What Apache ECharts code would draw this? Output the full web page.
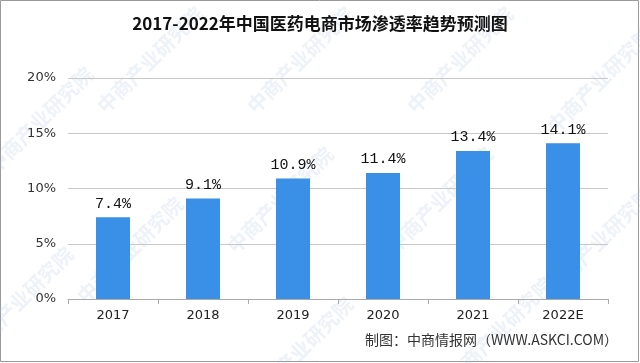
<!DOCTYPE html>
<html><head><meta charset="utf-8">
<script src="https://cdn.jsdelivr.net/npm/echarts@6/dist/echarts.min.js"></script>
<style>html,body{margin:0;padding:0;background:#fff}#c{width:640px;height:363px}</style>
</head><body><div id="c"></div>
<script>
const categories = ['2017','2018','2019','2020','2021','2022E'];
const values = [7.4, 9.1, 10.9, 11.4, 13.4, 14.1];
const yTicks = [0, 5, 10, 15, 20];
const titleText = '2017-2022年中国医药电商市场渗透率趋势预测图';
const sourceText = '制图：中商情报网（WWW.ASKCI.COM）';

const chart = echarts.init(document.getElementById('c'));
const wm = [];
const wmPos = [[40,120],[150,60],[300,60],[460,60],[600,80],[130,250],[280,200],[440,200],[600,240],[20,300],[500,330],[300,350]];
wmPos.forEach(p => wm.push({type:'text', x:p[0], y:p[1], rotation: Math.PI/4, z:0, silent:true,
  style:{text:'中商产业研究院', fill:'rgba(170,195,225,0.22)', font:'bold 20px "Noto Sans CJK SC"', textAlign:'center', textVerticalAlign:'middle'}}));
chart.setOption({
  animation:false,
  title:{text:titleText, left:'center', top:10,
    textStyle:{fontFamily:'"Noto Sans CJK SC"', fontWeight:'bold', fontSize:17, color:'#111'}},
  graphic:[
    {type:'rect', shape:{x:0.5,y:0.5,width:638,height:361}, style:{fill:'none', stroke:'#999', lineWidth:1}, silent:true},
    ...wm,
    {type:'text', right:22, top:333, style:{text:sourceText, fill:'#333', font:'14px "Noto Sans CJK SC"'}}
  ],
  grid:{left:68, right:32, top:78, bottom:64},
  xAxis:{type:'category', data:categories,
    axisLine:{lineStyle:{color:'#aaa'}},
    axisTick:{show:true, length:5, lineStyle:{color:'#aaa'}},
    axisLabel:{color:'#222', fontSize:13, margin:10, fontFamily:'"DejaVu Sans"'}},
  yAxis:{type:'value', min:yTicks[0], max:yTicks[yTicks.length-1], interval:5,
    axisLine:{show:false}, axisTick:{show:false},
    splitLine:{lineStyle:{color:'#c8c8c8'}},
    axisLabel:{formatter:v=>v+'%', color:'#333', fontSize:13, margin:12, fontFamily:'"DejaVu Sans"'}},
  series:[{type:'bar', data:values, barWidth:34, itemStyle:{color:'#3a8fe6'},
    label:{show:true, position:'top', distance:6, formatter:p=>p.value.toFixed(1)+'%',
      color:'#111', fontSize:15, fontFamily:'"Liberation Mono"'}}]
});
</script></body></html>
